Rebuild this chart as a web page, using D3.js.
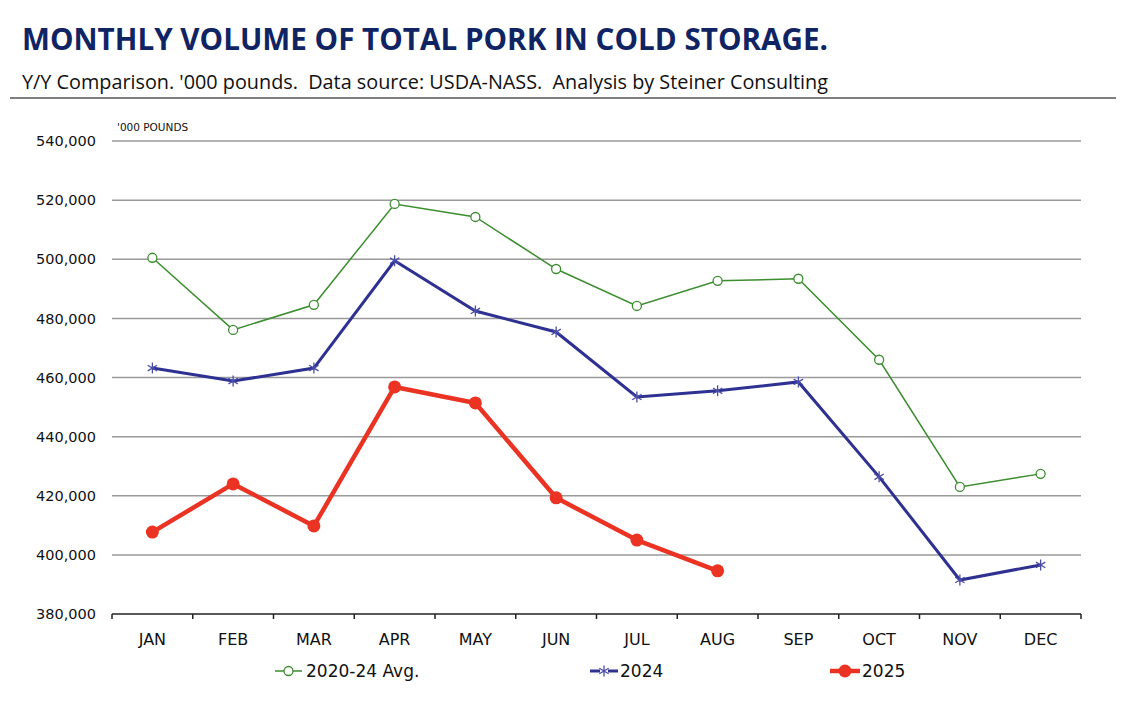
<!DOCTYPE html>
<html>
<head>
<meta charset="utf-8">
<script src="https://cdn.jsdelivr.net/npm/d3@7"></script>
<style>
  body { margin: 0; background: #fff; }
  svg { display: block; }
</style>
</head>
<body>
<div id="chart"></div>
<script>
// data ('000 pounds)
const months = ['JAN', 'FEB', 'MAR', 'APR', 'MAY', 'JUN', 'JUL', 'AUG', 'SEP', 'OCT', 'NOV', 'DEC'];
const avg2020_24 = [500500, 476100, 484600, 518700, 514300, 496700, 484200, 492700, 493400, 466000, 423000, 427400];
const y2024 = [463200, 458800, 463200, 499500, 482500, 475400, 453400, 455500, 458500, 426400, 391500, 396600];
const y2025 = [407700, 424000, 409800, 456800, 451400, 419300, 405000, 394600];
const yTicks = [380000, 400000, 420000, 440000, 460000, 480000, 500000, 520000, 540000];

const width = 1140, height = 710;
const margin = { left: 112, right: 59, top: 141, bottom: 96 };
const axisFont = "'DejaVu Sans', sans-serif";

const svg = d3.select('#chart').append('svg')
  .attr('width', width)
  .attr('height', height);

// titles
svg.append('text')
  .attr('x', 22).attr('y', 50)
  .attr('textLength', 806).attr('lengthAdjust', 'spacingAndGlyphs')
  .style('font-family', "'Open Sans', sans-serif")
  .style('font-weight', 700)
  .style('font-size', '30px')
  .style('fill', '#102463')
  .text('MONTHLY VOLUME OF TOTAL PORK IN COLD STORAGE.');

svg.append('text')
  .attr('x', 22).attr('y', 89)
  .attr('textLength', 806).attr('lengthAdjust', 'spacingAndGlyphs')
  .style('white-space', 'pre')
  .style('font-family', "'Open Sans', sans-serif")
  .style('font-size', '20px')
  .style('fill', '#111')
  .text("Y/Y Comparison. '000 pounds.  Data source: USDA-NASS.  Analysis by Steiner Consulting");

svg.append('line')
  .attr('x1', 10).attr('x2', 1116)
  .attr('y1', 98).attr('y2', 98)
  .attr('stroke', '#000').attr('stroke-width', 1.2);

const x = d3.scaleBand()
  .domain(months)
  .range([margin.left, width - margin.right]);

const y = d3.scaleLinear()
  .domain([380000, 540000])
  .range([height - margin.bottom, margin.top]);

// grid lines
svg.append('g')
  .selectAll('line')
  .data(yTicks.slice(1))
  .enter().append('line')
  .attr('x1', margin.left).attr('x2', width - margin.right)
  .attr('y1', d => y(d)).attr('y2', d => y(d))
  .attr('stroke', '#9a9a9a').attr('stroke-width', 1.5);

// y axis labels
const yAxis = d3.axisLeft(y).tickValues(yTicks).tickSize(0).tickPadding(16)
  .tickFormat(d3.format(','));
svg.append('g')
  .attr('transform', 'translate(' + margin.left + ',0)')
  .call(yAxis)
  .call(g => g.select('.domain').remove())
  .selectAll('text')
  .style('font-family', axisFont)
  .style('font-size', '14.5px')
  .style('fill', '#111');

svg.append('text')
  .attr('x', 117).attr('y', 131)
  .style('font-family', axisFont)
  .style('font-size', '10.5px')
  .style('fill', '#111')
  .text("'000 POUNDS");

// x axis with tick marks at band edges
const xAxisG = svg.append('g')
  .attr('transform', 'translate(0,' + y(380000) + ')');
xAxisG.append('line')
  .attr('x1', margin.left).attr('x2', width - margin.right)
  .attr('stroke', '#222').attr('stroke-width', 1.5);
xAxisG.selectAll('.tick')
  .data(months.concat(['end']))
  .enter().append('line')
  .attr('x1', (d, i) => margin.left + i * x.step())
  .attr('x2', (d, i) => margin.left + i * x.step())
  .attr('y1', 0).attr('y2', 5)
  .attr('stroke', '#222').attr('stroke-width', 1.5);
xAxisG.selectAll('text')
  .data(months)
  .enter().append('text')
  .attr('x', d => x(d) + x.bandwidth() / 2)
  .attr('y', 31)
  .attr('text-anchor', 'middle')
  .style('font-family', axisFont)
  .style('font-size', '16px')
  .style('fill', '#111')
  .text(d => d);

const cx = i => x(months[i]) + x.bandwidth() / 2;
const line = d3.line().x((d, i) => cx(i)).y(d => y(d));

const green = '#3b8d2e', blue = '#2e3192', red = '#ea3323';

// asterisk marker path
function asterisk(s) {
  const h = s / 2, d = h * 0.85;
  return 'M0,' + (-h) + 'V' + h +
    'M' + (-d) + ',' + (-d * 0.6) + 'L' + d + ',' + (d * 0.6) +
    'M' + (-d) + ',' + (d * 0.6) + 'L' + d + ',' + (-d * 0.6);
}

// 2020-24 avg
svg.append('path')
  .datum(avg2020_24)
  .attr('d', line)
  .attr('fill', 'none').attr('stroke', green).attr('stroke-width', 1.5);
svg.append('g').selectAll('circle')
  .data(avg2020_24)
  .enter().append('circle')
  .attr('cx', (d, i) => cx(i)).attr('cy', d => y(d)).attr('r', 4.5)
  .attr('fill', '#fff').attr('stroke', green).attr('stroke-width', 1.3);

// 2024
svg.append('path')
  .datum(y2024)
  .attr('d', line)
  .attr('fill', 'none').attr('stroke', blue).attr('stroke-width', 3);
svg.append('g').selectAll('path')
  .data(y2024)
  .enter().append('path')
  .attr('transform', (d, i) => 'translate(' + cx(i) + ',' + y(d) + ')')
  .attr('d', asterisk(11))
  .attr('fill', 'none').attr('stroke', '#4a4da8').attr('stroke-width', 1.3);

// 2025
svg.append('path')
  .datum(y2025)
  .attr('d', line)
  .attr('fill', 'none').attr('stroke', red).attr('stroke-width', 4.5)
  .attr('stroke-linejoin', 'round');
svg.append('g').selectAll('circle')
  .data(y2025)
  .enter().append('circle')
  .attr('cx', (d, i) => cx(i)).attr('cy', d => y(d)).attr('r', 6.5)
  .attr('fill', red);

// legend
const legendY = 671;
const legend = svg.append('g');
const items = [
  { name: '2020-24 Avg.', x1: 275, x2: 302, tx: 306 },
  { name: '2024', x1: 590, x2: 618, tx: 620 },
  { name: '2025', x1: 830, x2: 860, tx: 862 }
];

legend.append('line')
  .attr('x1', items[0].x1).attr('x2', items[0].x2)
  .attr('y1', legendY).attr('y2', legendY)
  .attr('stroke', green).attr('stroke-width', 1.5);
legend.append('circle')
  .attr('cx', (items[0].x1 + items[0].x2) / 2).attr('cy', legendY).attr('r', 4.5)
  .attr('fill', '#fff').attr('stroke', green).attr('stroke-width', 1.3);

legend.append('line')
  .attr('x1', items[1].x1).attr('x2', items[1].x2)
  .attr('y1', legendY).attr('y2', legendY)
  .attr('stroke', blue).attr('stroke-width', 3);
legend.append('rect')
  .attr('x', (items[1].x1 + items[1].x2) / 2 - 4).attr('y', legendY - 5)
  .attr('width', 8).attr('height', 10).attr('fill', '#fff');
legend.append('path')
  .attr('transform', 'translate(' + (items[1].x1 + items[1].x2) / 2 + ',' + legendY + ')')
  .attr('d', asterisk(11))
  .attr('fill', 'none').attr('stroke', '#4a4da8').attr('stroke-width', 1.3);

legend.append('line')
  .attr('x1', items[2].x1).attr('x2', items[2].x2)
  .attr('y1', legendY).attr('y2', legendY)
  .attr('stroke', red).attr('stroke-width', 4.5);
legend.append('circle')
  .attr('cx', (items[2].x1 + items[2].x2) / 2).attr('cy', legendY).attr('r', 6.5)
  .attr('fill', red);

legend.selectAll('text')
  .data(items)
  .enter().append('text')
  .attr('x', d => d.tx).attr('y', legendY + 6)
  .style('font-family', axisFont)
  .style('font-size', '17px')
  .style('fill', '#111')
  .text(d => d.name);
</script>
</body>
</html>
